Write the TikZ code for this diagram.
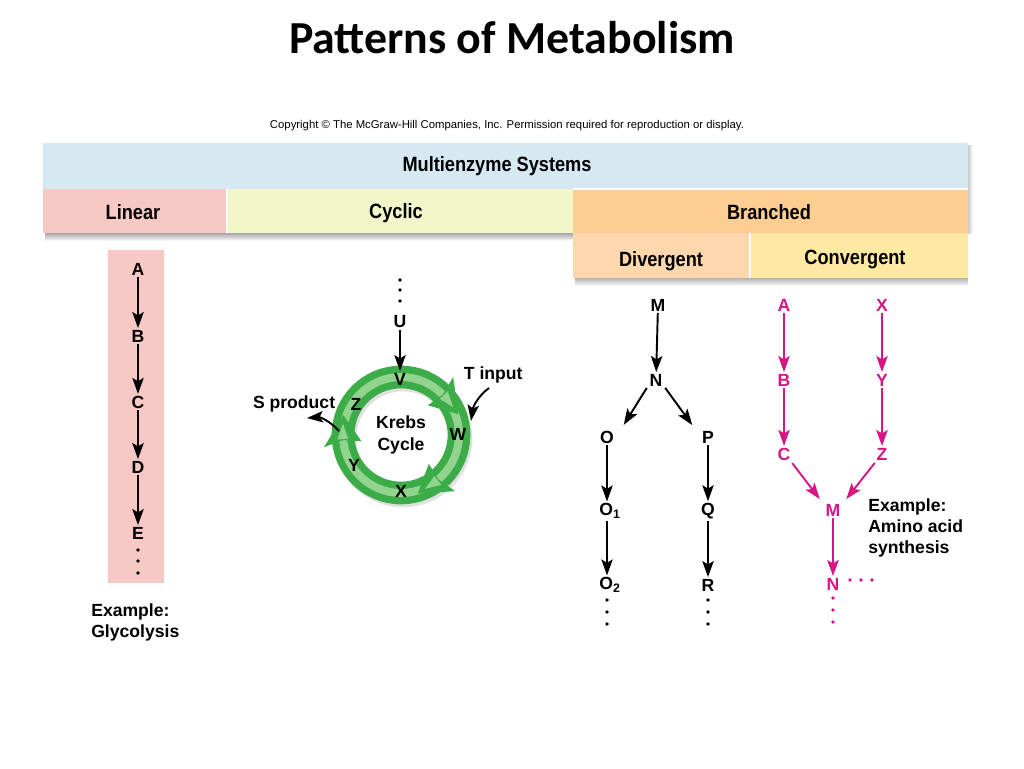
\documentclass[tikz,border=0pt]{standalone}
\usepackage{fontspec}
\setmainfont{Liberation Sans}
\newfontfamily\titlefont{Carlito}
\newfontfamily\hdrfont{Liberation Sans}[FakeStretch=0.88]
\usetikzlibrary{arrows.meta,calc}
\definecolor{bandblue}{RGB}{214,233,243}
\definecolor{linpink}{RGB}{248,200,196}
\definecolor{cycyel}{RGB}{242,245,200}
\definecolor{branor}{RGB}{253,205,145}
\definecolor{divpeach}{RGB}{254,216,172}
\definecolor{convyel}{RGB}{254,233,162}
\definecolor{magent}{RGB}{214,22,132}
\definecolor{ringdark}{RGB}{60,172,72}
\definecolor{ringlight}{RGB}{146,212,142}
\tikzset{
  hdr/.style={font=\hdrfont\bfseries\fontsize{15.5}{17}\selectfont, inner sep=0pt},
  lbl/.style={font=\bfseries\fontsize{13.2}{15}\selectfont, inner sep=1.2pt},
  mlbl/.style={lbl, text=magent},
  txt/.style={font=\bfseries\fontsize{13.2}{16}\selectfont, align=left, inner sep=0pt},
  arr/.style={-{Stealth[length=12pt,width=8.5pt,inset=2.5pt]}, line width=1.45pt},
  marr/.style={arr, draw=magent},
  dotk/.style={fill=black, draw=none},
  dotm/.style={fill=magent, draw=none},
}
\begin{document}
\begin{tikzpicture}[x=0.75pt,y=-0.75pt]
\useasboundingbox (0,0) rectangle (1024,768);
\fill[white] (0,0) rectangle (1024,768);

% title and copyright
\node[font=\titlefont\bfseries\fontsize{34.4}{38}\selectfont, inner sep=0pt] (title) at (512,38) {Patterns of Metabolism};
\node[font=\fontsize{8.5}{10}\selectfont, inner sep=0pt] (copy) at (507,126) {Copyright \textcopyright{} The McGraw-Hill Companies, Inc. Permission required for reproduction or display.};

% shadows
\shade[top color=black!35, bottom color=white] (45,233) rectangle (573,241);
\shade[top color=black!30, bottom color=white] (575,278) rectangle (968,286);
\shade[left color=black!20, right color=white] (968,145) rectangle (973,233);

% header bands
\fill[bandblue] (43,143) rectangle (968,189);
\node[hdr] (multi) at (497,166) {Multienzyme Systems};
\fill[linpink] (43,189) rectangle (227,233);
\node[hdr] (linear) at (133,212) {Linear};
\fill[cycyel] (227,189) rectangle (573,233);
\node[hdr] (cyclic) at (396,213) {Cyclic};
\fill[branor] (573,189) rectangle (968,233);
\node[hdr] (branched) at (769,212) {Branched};
\fill[divpeach] (573,233) rectangle (750,278);
\node[hdr] (diverg) at (661,261) {Divergent};
\fill[convyel] (750,233) rectangle (968,278);
\node[hdr] (converg) at (855,259) {Convergent};
\draw[white, line width=1pt] (227,189) -- (227,233);
\draw[white, line width=1pt] (573,189) -- (968,189);
\draw[white, line width=1pt] (750,233) -- (750,278);

% ---- Linear ----
\fill[linpink] (108,250) rectangle (164,583);
\node[lbl] (la) at (138,269) {A};
\node[lbl] (lb) at (138,336) {B};
\node[lbl] (lc) at (138,402) {C};
\node[lbl] (ld) at (138,467) {D};
\node[lbl] (le) at (138,533) {E};
\draw[arr] (la) -- (lb);
\draw[arr] (lb) -- (lc);
\draw[arr] (lc) -- (ld);
\draw[arr] (ld) -- (le);
\foreach \yy in {550,561,573} \fill[dotk] (138,\yy) circle (1.8);
\node[txt, anchor=north west] (glyc) at (91,603) {Example:\\Glycolysis};

% ---- Cyclic ----
\foreach \yy in {280,290,301} \fill[dotk] (400,\yy) circle (1.8);
\coordinate (cc) at (401,435);
% ring shadow
\draw[black!12, line width=17] ($(cc)+(2,3)$) circle (58);
\draw[ringdark, line width=17] (cc) circle (58);
\draw[ringlight, line width=6] (cc) circle (58);
% arrowheads (theta increases clockwise on the page)
\foreach \t in {-48,46,171}{
  \fill[ringdark] ($(cc)+(\t:40)$) -- ($(cc)+(\t+28:61)$) -- ($(cc)+(\t:78)$) -- ($(cc)+(\t+4:58)$) -- cycle;
  \fill[ringlight] ($(cc)+(\t+5:53)$) -- ($(cc)+(\t+20:59)$) -- ($(cc)+(\t+5:64)$) -- cycle;
}
\node[lbl] (cu) at (400,322) {U};
\node[lbl] (cv) at (400,379) {V};
\node[lbl] (cw) at (458,434) {W};
\node[lbl] (cx) at (401,491) {X};
\node[lbl] (cy) at (354,465) {Y};
\node[lbl] (cz) at (356,404) {Z};
\draw[arr] (cu) -- (cv);
\node[txt, align=center] (krebs) at (401,435) {Krebs\\Cycle};
\node[lbl, anchor=west] (tin) at (462,375) {T input};
\node[lbl, anchor=east] (sprod) at (337,404) {S product};
\coordinate (tstart) at (489,388);
\coordinate (wend) at (471,421);
\draw[arr] (tstart) .. controls (478,396) and (473,407) .. (wend);
\coordinate (sstart) at (339,431);
\coordinate (send) at (307,418);
\draw[arr] (sstart) .. controls (330,421) and (320,417) .. (send);

% ---- Divergent ----
\node[lbl] (dm) at (658,305) {M};
\node[lbl] (dn) at (656,380) {N};
\node[lbl] (do) at (607,437) {O};
\node[lbl] (dp) at (708,437) {P};
\node[lbl] (do1) at (610,511) {O\textsubscript{1}};
\node[lbl] (dq) at (708,511) {Q};
\node[lbl] (do2) at (610,585) {O\textsubscript{2}};
\node[lbl] (dr) at (708,585) {R};
\draw[arr] (dm) -- (dn);
\draw[arr] (dn.south west) ++(-1,0) -- ($(do.north east)+(8,-4)$);
\draw[arr] (dn.south east) ++(1,0) -- ($(dp.north west)+(-8,-4)$);
\draw[arr] (do.south) -- (do.south |- do1.north);
\draw[arr] (dp) -- (dq);
\draw[arr] (do1.south -| do.south) -- (do.south |- do2.north);
\draw[arr] (dq) -- (dr);
\foreach \yy in {600,612,624} {\fill[dotk] (607,\yy) circle (1.8); \fill[dotk] (708,\yy) circle (1.8);}

% ---- Convergent ----
\node[mlbl] (ca) at (784,305) {A};
\node[mlbl] (cxx) at (882,305) {X};
\node[mlbl] (cb) at (784,380) {B};
\node[mlbl] (cyy) at (882,380) {Y};
\node[mlbl] (ccc) at (784,454) {C};
\node[mlbl] (czz) at (882,454) {Z};
\node[mlbl] (cm) at (833,510) {M};
\node[mlbl] (cn) at (833,584) {N};
\draw[marr] (ca) -- (cb);
\draw[marr] (cb) -- (ccc);
\draw[marr] (cxx) -- (cyy);
\draw[marr] (cyy) -- (czz);
\draw[marr] (ccc.south east) ++(0,1) -- ($(cm.north west)+(-4,-3)$);
\draw[marr] (czz.south west) ++(0,1) -- ($(cm.north east)+(4,-3)$);
\draw[marr] (cm) -- (cn);
\foreach \xx in {850,861,872} \fill[dotm] (\xx,580) circle (1.8);
\foreach \yy in {598,610,622} \fill[dotm] (833,\yy) circle (1.8);
\node[txt, anchor=north west] (amino) at (868,498) {Example:\\Amino acid\\synthesis};
\end{tikzpicture}
\end{document}
